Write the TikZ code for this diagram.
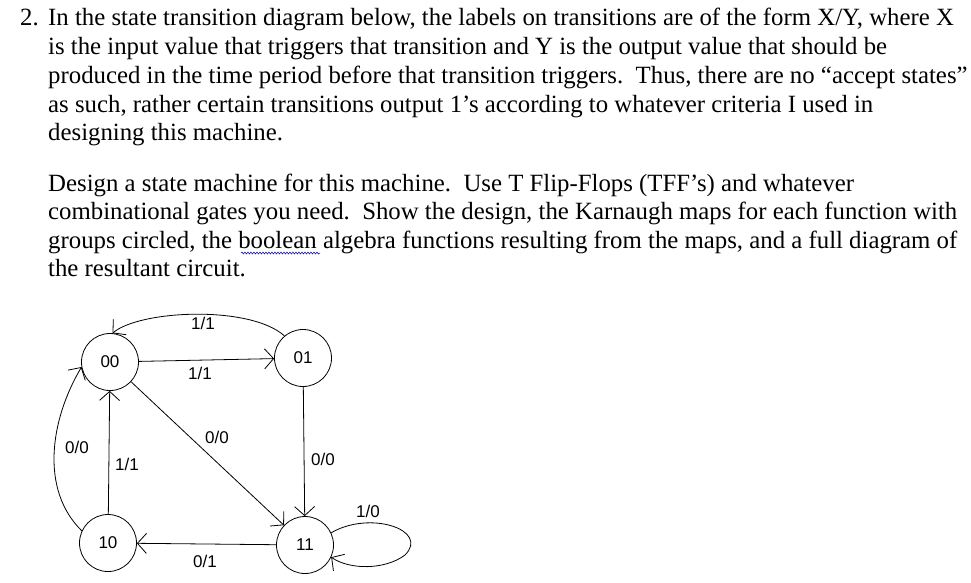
\documentclass[tikz,border=0pt]{standalone}
\usepackage{fontspec}
\setmainfont{Liberation Serif}
\newfontfamily\lblfont{Liberation Sans}
\usetikzlibrary{arrows.meta,decorations.pathmorphing}
\begin{document}
\begin{tikzpicture}[x=1pt,y=-1pt,
  st/.style={circle,draw,line width=0.8pt,minimum size=57pt,inner sep=0pt,font=\lblfont\fontsize{17}{17}\selectfont},
  tr/.style={line width=0.8pt,-{Straight Barb[length=9pt,width=20pt]}},
  lbl/.style={font=\lblfont\fontsize{17}{17}\selectfont,inner sep=1pt},
  ln/.style={anchor=base west,inner sep=0pt,font=\fontsize{24.8}{28}\selectfont}]
\useasboundingbox (0,0) rectangle (971,582);
\node[ln] (n) at (20,25) {2.};
\node[ln] (l1) at (48,25) {In the state transition diagram below, the labels on transitions are of the form X/Y, where X};
\node[ln] (l2) at (48,54) {is the input value that triggers that transition and Y is the output value that should be};
\node[ln] (l3) at (48,83) {produced in the time period before that transition triggers.\ \ Thus, there are no “accept states”};
\node[ln] (l4) at (48,112) {as such, rather certain transitions output 1’s according to whatever criteria I used in};
\node[ln] (l5) at (48,140) {designing this machine.};
\node[ln] (m1) at (48,191) {Design a state machine for this machine.\ \ Use T Flip-Flops (TFF’s) and whatever};
\node[ln] (m2) at (48,219) {combinational gates you need.\ \ Show the design, the Karnaugh maps for each function with};
\node[ln] (m3) at (48,248) {groups circled, the boolean algebra functions resulting from the maps, and a full diagram of};
\node[ln] (m4) at (48,276) {the resultant circuit.};
\draw[blue!60!black,line width=0.5pt,decorate,decoration={snake,amplitude=1pt,segment length=3pt}] (241,253) -- (320,253);

\node[st] (s00) at (110,362) {00};
\node[st] (s01) at (303,358) {01};
\node[st] (s10) at (108,543) {10};
\node[st] (s11) at (305,545) {11};

\draw[tr] (s01.130) .. controls (250,305) and (140,310) .. (s00.85);
\node[lbl] (a) at (203,323) {1/1};
\draw[tr] (s00) -- (s01);
\node[lbl] (b) at (200,373) {1/1};
\draw[tr] (s00) -- (s11);
\node[lbl] (c) at (217,437) {0/0};
\draw[tr] (s01) -- (s11);
\node[lbl] (d) at (323,459) {0/0};
\draw[tr] (s11) -- (s10);
\node[lbl] (e) at (205,561) {0/1};
\draw[tr] (s10) -- (s00);
\node[lbl] (f) at (127,464) {1/1};
\draw[tr] (s10.155) .. controls (40,490) and (50,420) .. (s00.190);
\node[lbl] (g) at (77,447) {0/0};
\draw[tr] (s11.25) .. controls (370,510) and (430,530) .. (405,555) .. controls (385,570) and (350,570) .. (s11.-25);
\node[lbl] (h) at (368,511) {1/0};
\end{tikzpicture}
\end{document}
